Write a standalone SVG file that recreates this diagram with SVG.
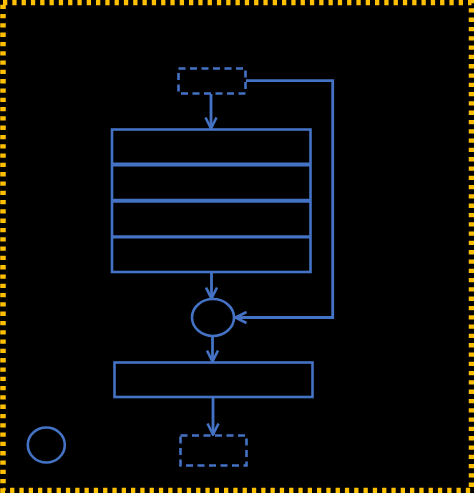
<svg xmlns="http://www.w3.org/2000/svg" width="474" height="493" viewBox="0 0 474 493">
<style>
.s{fill:none;stroke:#4472C4;stroke-width:2.6}
.d{fill:none;stroke:#4472C4;stroke-width:2.6;stroke-dasharray:7 4.5}
.c{fill:none;stroke:#4472C4;stroke-width:2.8}
</style>
<defs>
<marker id="a" viewBox="0 0 14 14" refX="13" refY="7" markerWidth="14" markerHeight="14" markerUnits="userSpaceOnUse" orient="auto">
<path d="M1.5,1.5 L12.5,7 L1.5,12.5" fill="none" stroke="#4472C4" stroke-width="2.6"/>
</marker>
</defs>
<rect x="0" y="0" width="474" height="493" fill="#000"/>
<rect x="3" y="2.5" width="468.5" height="488" fill="none" stroke="#FFC000" stroke-width="5.5" stroke-dasharray="4.3 5"/>
<g id="input"><rect class="d" x="178.5" y="68.5" width="67" height="25"/></g>
<g id="stack">
<rect class="s" x="112" y="129.5" width="198.5" height="142.5"/>
<line x1="112" y1="164.5" x2="310.5" y2="164.5" stroke="#4472C4" stroke-width="4"/>
<line x1="112" y1="200.8" x2="310.5" y2="200.8" stroke="#4472C4" stroke-width="4"/>
<line x1="112" y1="236.8" x2="310.5" y2="236.8" stroke="#4472C4" stroke-width="3.2"/>
</g>
<g id="sum"><ellipse class="s" cx="213" cy="317.5" rx="21" ry="18.5"/></g>
<g id="block"><rect class="s" x="114.5" y="362.5" width="198" height="34.5"/></g>
<g id="output"><rect class="d" x="180.5" y="435.5" width="66" height="30"/></g>
<g id="legend"><ellipse class="s" cx="46.3" cy="445" rx="18.5" ry="17.5"/></g>
<g id="connectors">
<line class="c" x1="211" y1="94" x2="211" y2="129" marker-end="url(#a)"/>
<polyline class="c" points="246,80.7 332.7,80.7 332.7,317.5 235,317.5" marker-end="url(#a)"/>
<line class="c" x1="211.5" y1="272" x2="211.5" y2="299" marker-end="url(#a)"/>
<line class="c" x1="212.5" y1="336" x2="212.5" y2="362" marker-end="url(#a)"/>
<line class="c" x1="213" y1="397" x2="213" y2="435" marker-end="url(#a)"/>
</g>
</svg>
